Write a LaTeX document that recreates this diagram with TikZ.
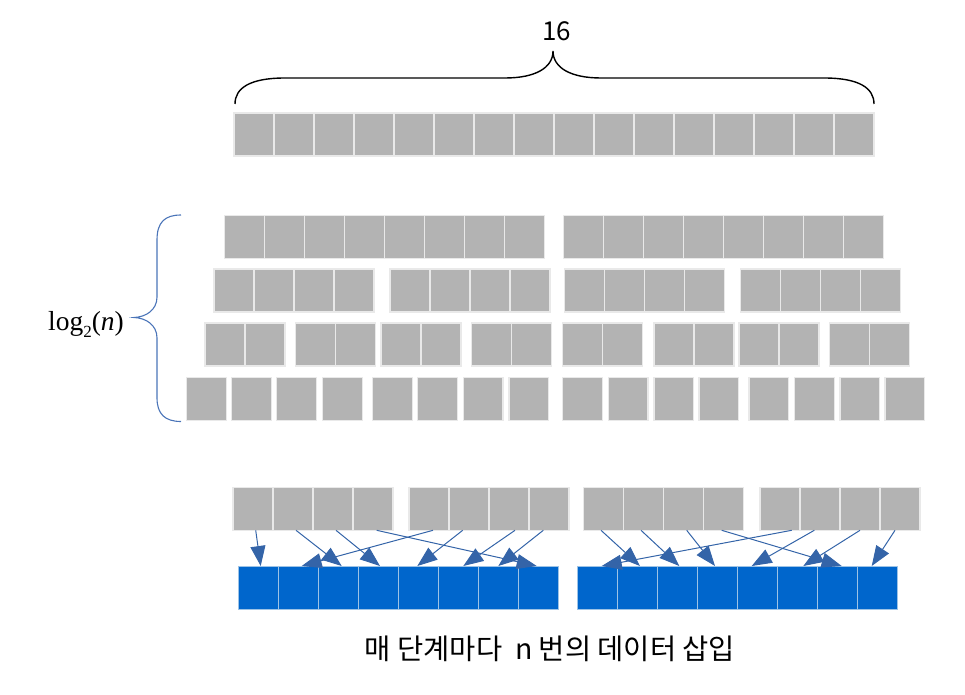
\documentclass[tikz,border=0pt]{standalone}
\usepackage{fontspec}
\setmainfont{Liberation Serif}
\newfontfamily\krfont{Noto Sans CJK KR}
\usetikzlibrary{arrows.meta,calc}
\definecolor{cellgray}{HTML}{B3B3B3}
\definecolor{cellrim}{HTML}{E9E9E9}
\definecolor{cellblue}{HTML}{0066CC}
\definecolor{bluerim}{HTML}{9DC3E6}
\definecolor{arrowblue}{HTML}{3464A8}
\definecolor{braceblue}{HTML}{4A74B8}
\begin{document}
\begin{tikzpicture}[x=1pt,y=-1pt,
  graycell/.style={rectangle, anchor=north west, inner sep=0pt, outer sep=0pt,
    minimum width=40pt, minimum height=43pt, fill=cellgray, draw=cellrim, line width=1.4pt},
  smallcell/.style={graycell, minimum width=39.5pt},
  bluecell/.style={rectangle, anchor=north west, inner sep=0pt, outer sep=0pt,
    minimum width=40pt, minimum height=43pt, fill=cellblue, draw=bluerim, line width=1pt},
  movearrow/.style={draw=arrowblue, line width=1pt, -{Triangle[length=20pt,width=15pt]}},
  bracepath/.style={line width=1.4pt},
  labeltext/.style={inner sep=0pt, anchor=base}
]
\useasboundingbox (0,0) rectangle (965,695);

% top row of 16
\foreach \i in {0,...,15}
  \node[graycell] (top-\i) at ({234+40*\i},113) {};

% level 1: two groups of 8
\foreach \g/\x in {0/224.7,1/563.3}
  \foreach \i in {0,...,7}
    \node[graycell] (ra-\g-\i) at ({\x+40*\i},215.5) {};

% level 2: four groups of 4
\foreach \g/\x in {0/214,1/390,2/564.3,3/740.7}
  \foreach \i in {0,...,3}
    \node[graycell] (rb-\g-\i) at ({\x+40*\i},269) {};

% level 3: eight groups of 2
\foreach \g/\x in {0/205,1/295.7,2/381,3/471.7,4/562.7,5/654,6/739,7/829.7}
  \foreach \i in {0,...,1}
    \node[graycell] (rc-\g-\i) at ({\x+40*\i},323) {};

% level 4: sixteen singles
\foreach \g/\x in {0/186.7,1/231.7,2/276.7,3/322.7,4/372.7,5/417.7,6/463.3,7/509,
                   8/562.7,9/608.3,10/654,11/699,12/749,13/794.7,14/840,15/885}
  \node[smallcell] (rd-\g) at (\x,377.5) {};

% bottom gray: four groups of 4
\foreach \g/\x in {0/233,1/409,2/583.3,3/760}
  \foreach \i in {1,...,4}
    \pgfmathtruncatemacro{\k}{4*\g+\i}
    \node[graycell] (g\k) at ({\x+40*(\i-1)},487.3) {};

% blue: two groups of 8
\foreach \g/\x in {0/238.3,1/577.3}
  \foreach \i in {1,...,8}
    \pgfmathtruncatemacro{\k}{8*\g+\i}
    \node[bluecell] (b\k) at ({\x+40*(\i-1)},566) {};

% arrows
\draw[movearrow] ([xshift=2.7pt]g1.south)  -- ([xshift=2.4pt]b1.north);
\draw[movearrow] ([xshift=3pt]g2.south)    -- ([xshift=3.4pt]b3.north);
\draw[movearrow] ([xshift=3pt]g3.south)    -- ([xshift=1.7pt]b4.north);
\draw[movearrow] ([xshift=3.7pt]g4.south)  -- ([xshift=-1.6pt]b8.north);
\draw[movearrow] ([xshift=4pt]g5.south)    -- ([xshift=3.4pt]b2.north);
\draw[movearrow] ([xshift=-6.3pt]g6.south) -- ([xshift=-1pt]b5.north);
\draw[movearrow] ([xshift=6pt]g7.south)    -- ([xshift=5pt]b6.north);
\draw[movearrow] ([xshift=-5.7pt]g8.south) -- ([xshift=0pt]b7.north);
\draw[movearrow] ([xshift=-2.3pt]g9.south) -- ([xshift=2.7pt]b10.north);
\draw[movearrow] ([xshift=-2.3pt]g10.south) -- ([xshift=2pt]b11.north);
\draw[movearrow] ([xshift=3.4pt]g11.south) -- ([xshift=-2.3pt]b12.north);
\draw[movearrow] ([xshift=-1.6pt]g12.south) -- ([xshift=4.4pt]b15.north);
\draw[movearrow] ([xshift=11.7pt]g13.south) -- ([xshift=4.4pt]b9.north);
\draw[movearrow] ([xshift=-5.7pt]g14.south) -- ([xshift=-5.6pt]b13.north);
\draw[movearrow] ([xshift=0pt]g15.south)   -- ([xshift=6pt]b14.north);
\draw[movearrow] ([xshift=-5pt]g16.south)  -- ([xshift=-5.6pt]b16.north);

% top brace
\draw[bracepath, draw=black]
  (235,104) .. controls (235,88) and (250,78) .. (285,78) -- (505,78)
  .. controls (535,78) and (553,68) .. (553,51)
  .. controls (553,68) and (571,78) .. (601,78) -- (824,78)
  .. controls (859,78) and (874,88) .. (874,104);
\node[labeltext, font=\krfont\fontsize{26}{30}\selectfont] (sixteen) at (556.7,40.7) {16};

% left brace
\draw[line width=1.1pt, draw=braceblue]
  (181,215) .. controls (165,215) and (157,222) .. (157,240) -- (157,297)
  .. controls (157,310) and (146,317) .. (134,317.5)
  .. controls (146,318) and (157,325) .. (157,338) -- (157,398)
  .. controls (157,414) and (165,421.5) .. (181,421.5);
\node[labeltext, anchor=base west, font=\fontsize{27.5}{32}\selectfont] (logn) at (48,330)
  {log\raisebox{-0.28em}{\fontsize{17}{17}\selectfont 2}(\textit{n})};

% caption
\node[labeltext, font=\krfont\fontsize{28.5}{32}\selectfont] (caption) at (550,659.5)
  {매 단계마다\ \ n 번의 데이터 삽입};
\end{tikzpicture}
\end{document}
